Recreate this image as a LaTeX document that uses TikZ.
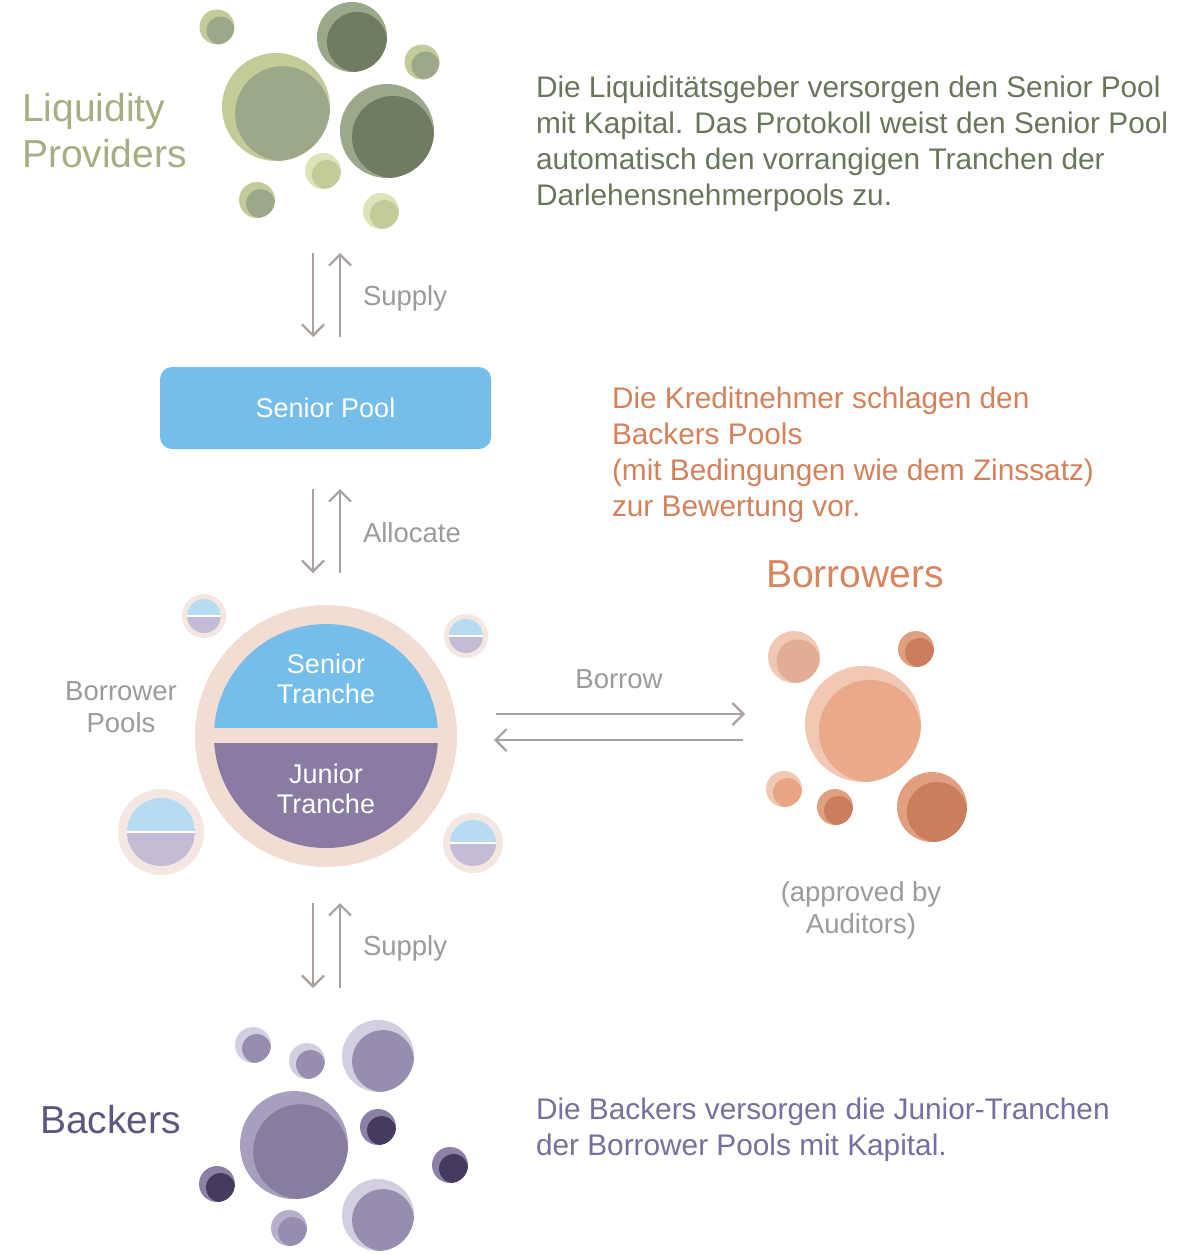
\documentclass[tikz,border=0pt]{standalone}
\usepackage{fontspec}
\setmainfont{Liberation Sans}
\usetikzlibrary{arrows.meta}
% greens
\definecolor{gA}{HTML}{DCE3B8}
\definecolor{gB}{HTML}{C3CB98}
\definecolor{gC}{HTML}{9BA98A}
\definecolor{gD}{HTML}{6F7C61}
% oranges
\definecolor{oA}{HTML}{F0C8B4}
\definecolor{oB}{HTML}{E3AC94}
\definecolor{oC}{HTML}{EBA98C}
\definecolor{oD}{HTML}{E0A080}
\definecolor{oE}{HTML}{CA7E5C}
\definecolor{oF}{HTML}{E8A585}
% purples
\definecolor{pA}{HTML}{D3CEE0}
\definecolor{pB}{HTML}{978DAF}
\definecolor{pC}{HTML}{A89EBD}
\definecolor{pD}{HTML}{887CA0}
\definecolor{pE}{HTML}{8C80A4}
\definecolor{pF}{HTML}{463B5E}
\definecolor{pG}{HTML}{B8B0CB}
% pools
\definecolor{spblue}{HTML}{74BEE9}
\definecolor{jrpurple}{HTML}{8A7BA3}
\definecolor{ringc}{HTML}{F1DDD3}
\definecolor{poolring}{HTML}{F4E7E1}
\definecolor{poolblue}{HTML}{B5DCF0}
\definecolor{poollav}{HTML}{C4BCD6}
% text
\definecolor{lplabelc}{HTML}{A5AF83}
\definecolor{lptextc}{HTML}{6A765C}
\definecolor{orangetxt}{HTML}{D3825C}
\definecolor{borrowc}{HTML}{D9855F}
\definecolor{purptxt}{HTML}{7A6E9F}
\definecolor{backc}{HTML}{5F557F}
\definecolor{graytxt}{HTML}{9B9B9B}
\definecolor{arrowgray}{HTML}{A9A29D}

\newcommand\drawbubble[5]{%
  \fill[#4] (#1,#2) circle[radius=#3];
  \begin{scope}
    \clip (#1,#2) circle[radius=#3];
    \pgfmathsetmacro\bubd{(4+0.17*#3)/2}
    \pgfmathsetmacro\bubx{#1+\bubd}
    \pgfmathsetmacro\buby{#2+\bubd}
    \pgfmathsetmacro\bubr{#3-\bubd}
    \fill[#5] (\bubx,\buby) circle[radius=\bubr];
  \end{scope}}
\newcommand\minipool[4]{%
  \fill[poolring] (#1,#2) circle[radius=#3];
  \begin{scope}
    \clip (#1,#2) circle[radius=#4];
    \fill[poolblue] (#1-#4,#2-#4) rectangle (#1+#4,#2);
    \fill[poollav] (#1-#4,#2) rectangle (#1+#4,#2+#4);
    \draw[white, line width=2pt] (#1-#4,#2) -- (#1+#4,#2);
  \end{scope}}
\newcommand\leftlines[1]{\vtop{\halign{##\hfil\cr#1\crcr}}}
\newcommand\midlines[1]{\vtop{\halign{\hfil##\hfil\cr#1\crcr}}}

\tikzset{
  bigfont/.style={font=\fontsize{39}{47}\selectfont},
  parafont/.style={font=\fontsize{29.8}{36}\selectfont},
  grayfont/.style={font=\fontsize{27.5}{32}\selectfont, text=graytxt},
  txt/.style={inner sep=0pt, outer sep=0pt},
  flow/.style={draw=arrowgray, line width=2.2pt,
    -{Straight Barb[length=11pt,width=22pt]}},
}

\begin{document}
\begin{tikzpicture}[x=1pt, y=-1pt]
\fill[white] (0,0) rectangle (1200,1255);
\useasboundingbox (0,0) rectangle (1200,1255);

% ---------- Liquidity providers bubbles ----------
\drawbubble{217}{27}{17.5}{gB}{gC}
\drawbubble{352}{37}{35}{gC}{gD}
\drawbubble{422}{62}{17.5}{gB}{gC}
\drawbubble{276}{107}{54}{gB}{gC}
\drawbubble{387}{131}{47}{gC}{gD}
\drawbubble{323}{171}{18}{gA}{gB}
\drawbubble{257}{200}{18}{gB}{gC}
\drawbubble{381}{211}{18}{gA}{gB}

\node[txt, bigfont, text=lplabelc, anchor=base west] (lp) at (22,121)
  {\leftlines{Liquidity\cr Providers}};
\node[txt, parafont, text=lptextc, anchor=base west] (lptext) at (536,97)
  {\leftlines{Die Liquiditätsgeber versorgen den Senior Pool\cr
   mit Kapital. Das Protokoll weist den Senior Pool\cr
   automatisch den vorrangigen Tranchen der\cr
   Darlehensnehmerpools zu.}};

% ---------- Supply arrows (top) ----------
\coordinate (s1t) at (313,253); \coordinate (s1b) at (313,337);
\coordinate (s2t) at (340,253); \coordinate (s2b) at (340,337);
\draw[flow] (s1t) -- (s1b);
\draw[flow] (s2b) -- (s2t);
\node[txt, grayfont, anchor=base west] (supply1) at (363,305) {Supply};

% ---------- Senior pool ----------
\node[fill=spblue, rounded corners=12pt, minimum width=331pt, minimum height=82pt,
      inner sep=0pt, text=white, font=\fontsize{27}{32}\selectfont] (sp) at (325.5,408) {Senior Pool};

\node[txt, parafont, text=orangetxt, anchor=base west] (bortext) at (612,408)
  {\leftlines{Die Kreditnehmer schlagen den\cr
   Backers Pools\cr
   (mit Bedingungen wie dem Zinssatz)\cr
   zur Bewertung vor.}};

% ---------- Allocate arrows ----------
\coordinate (a1t) at (313,489); \coordinate (a1b) at (313,573);
\coordinate (a2t) at (340,489); \coordinate (a2b) at (340,573);
\draw[flow] (a1t) -- (a1b);
\draw[flow] (a2b) -- (a2t);
\node[txt, grayfont, anchor=base west] (alloc) at (363,542) {Allocate};

% ---------- Borrower pools ----------
\minipool{204}{616}{22}{17}
\minipool{466}{636}{22}{17}
\minipool{161}{832}{43}{34}
\minipool{473}{843}{30}{23}

\node[circle, fill=ringc, minimum size=262pt, inner sep=0pt] (bp) at (326,736) {};
\begin{scope}
  \clip (326,736) circle[radius=112];
  \fill[spblue] (200,600) rectangle (460,728);
  \fill[jrpurple] (200,743) rectangle (460,880);
\end{scope}
\node[txt, text=white, font=\fontsize{27}{30}\selectfont, anchor=base] (st) at (326,673)
  {\midlines{Senior\cr Tranche}};
\node[txt, text=white, font=\fontsize{27}{30}\selectfont, anchor=base] (jt) at (326,783)
  {\midlines{Junior\cr Tranche}};
\node[txt, grayfont, anchor=base] (bplabel) at (121,700) {\midlines{Borrower\cr Pools}};

% ---------- Borrow arrows ----------
\coordinate (b1l) at (496,714); \coordinate (b1r) at (745,714);
\coordinate (b2l) at (494,740); \coordinate (b2r) at (743,740);
\draw[flow] (b1l) -- (b1r);
\draw[flow] (b2r) -- (b2l);
\node[txt, grayfont, anchor=base] (borrow) at (619,688) {Borrow};

% ---------- Borrowers ----------
\node[txt, bigfont, text=borrowc, anchor=base] (borrowers) at (855,587) {Borrowers};
\drawbubble{794}{657}{26}{oA}{oB}
\drawbubble{916}{649}{18}{oD}{oE}
\drawbubble{863}{724}{58}{oA}{oC}
\drawbubble{784}{789}{18}{oA}{oF}
\drawbubble{835}{807}{18}{oD}{oE}
\drawbubble{932}{807}{35}{oD}{oE}
\node[txt, grayfont, anchor=base] (approved) at (861,901) {\midlines{(approved by\cr Auditors)}};

% ---------- Supply arrows (bottom) ----------
\coordinate (s3t) at (313,903); \coordinate (s3b) at (313,988);
\coordinate (s4t) at (340,903); \coordinate (s4b) at (340,988);
\draw[flow] (s3t) -- (s3b);
\draw[flow] (s4b) -- (s4t);
\node[txt, grayfont, anchor=base west] (supply2) at (363,955) {Supply};

% ---------- Backers ----------
\drawbubble{253}{1045}{18}{pA}{pB}
\drawbubble{307}{1061}{18}{pA}{pB}
\drawbubble{378}{1056}{36}{pA}{pB}
\drawbubble{294}{1145}{54}{pC}{pD}
\drawbubble{378}{1127}{18}{pE}{pF}
\drawbubble{450}{1165}{18}{pE}{pF}
\drawbubble{217}{1184}{18}{pE}{pF}
\drawbubble{289}{1228}{18}{pG}{pB}
\drawbubble{378}{1215}{36}{pA}{pB}

\node[txt, bigfont, text=backc, anchor=base west] (backers) at (40,1133) {Backers};
\node[txt, parafont, text=purptxt, anchor=base west] (backtext) at (536,1119)
  {\leftlines{Die Backers versorgen die Junior-Tranchen\cr
   der Borrower Pools mit Kapital.}};
\end{tikzpicture}
\end{document}
